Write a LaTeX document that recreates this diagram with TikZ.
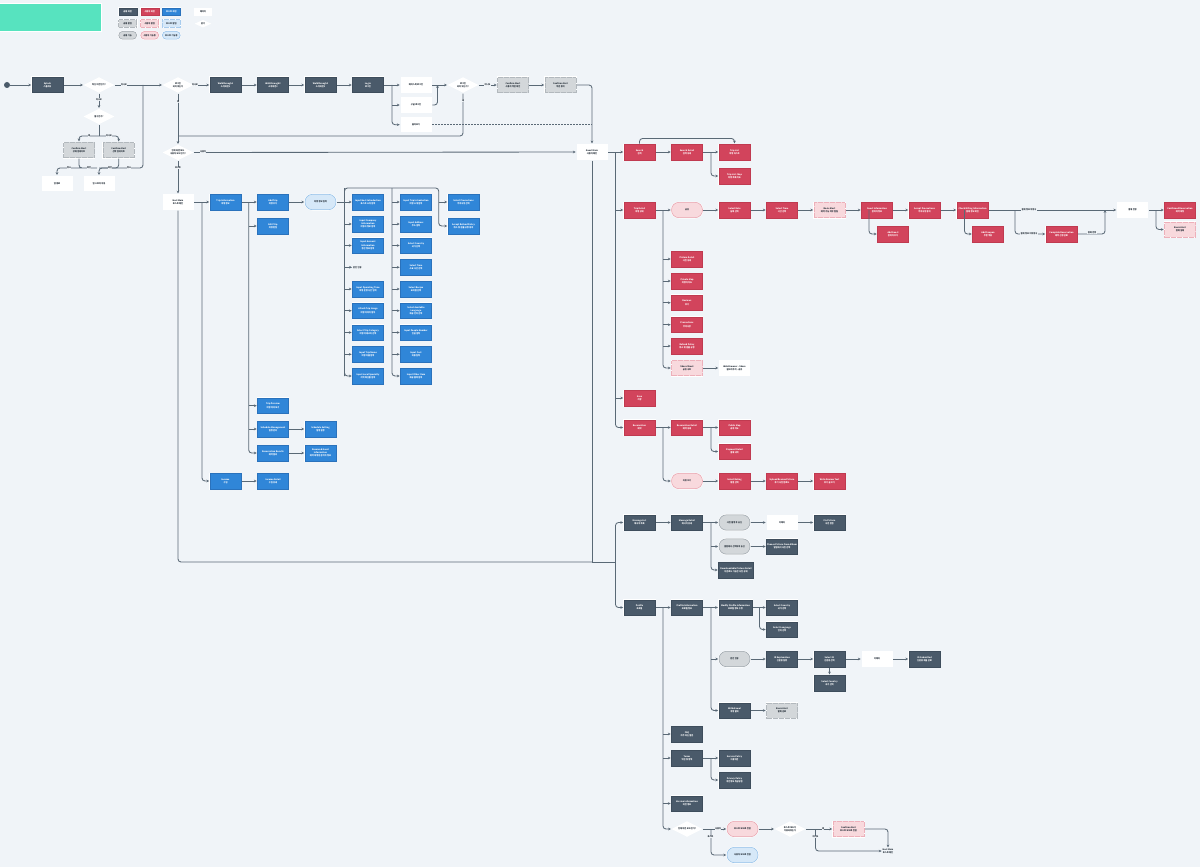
\documentclass[tikz,border=0pt]{standalone}
\usepackage{fontspec}
\setmainfont{Noto Sans CJK KR}
\usetikzlibrary{arrows.meta,shapes.geometric}
\definecolor{bgc}{HTML}{F0F4F8}
\definecolor{grn}{HTML}{57E3BF}
\definecolor{dkc}{HTML}{4A5A6A}
\definecolor{dkb}{HTML}{3E4D5C}
\definecolor{rdc}{HTML}{D2445C}
\definecolor{rdb}{HTML}{C03A50}
\definecolor{blc}{HTML}{3086D8}
\definecolor{blb}{HTML}{2A72BC}
\definecolor{pdc}{HTML}{D3D7DA}
\definecolor{pdb}{HTML}{B2B8BD}
\definecolor{prc}{HTML}{F8D9DD}
\definecolor{prb}{HTML}{EDB0BA}
\definecolor{pbc}{HTML}{D6E8F8}
\definecolor{pbb}{HTML}{A8CCEE}
\definecolor{pdl}{HTML}{9AA3AA}
\definecolor{prl}{HTML}{E8A0AC}
\definecolor{pbl}{HTML}{90BEE8}
\definecolor{lnc}{HTML}{5A6976}
\definecolor{txt}{HTML}{1F2933}
\newcommand{\fs}{\fontsize{2.15}{3.2}\selectfont\bfseries}
\newcommand{\pr}[2]{#1\\#2}
\tikzset{
 basebox/.style={rectangle,inner sep=0pt,minimum width=31pt,minimum height=15.4pt,align=center,font=\fs,outer sep=.8pt},
 halo/.style={preaction={draw=white,solid,line width=1.6pt}},
 scrD/.style={basebox,halo,fill=dkc,draw=dkb,line width=.4pt,text=white},
 scrR/.style={basebox,halo,fill=rdc,draw=rdb,line width=.4pt,text=white},
 scrB/.style={basebox,halo,fill=blc,draw=blb,line width=.4pt,text=white},
 popD/.style={basebox,halo,fill=pdc,draw=pdb,dash pattern=on .6pt off .6pt,line width=.6pt,text=txt},
 popR/.style={basebox,halo,fill=prc,draw=prb,dash pattern=on .6pt off .6pt,line width=.6pt,text=txt},
 popB/.style={basebox,halo,fill=pbc,draw=pbb,dash pattern=on .6pt off .6pt,line width=.6pt,text=txt},
 pillD/.style={basebox,rounded corners=7.5pt,halo,fill=pdc,draw=pdl,line width=.5pt,text=txt},
 pillR/.style={basebox,rounded corners=7.5pt,halo,fill=prc,draw=prl,line width=.5pt,text=txt},
 pillB/.style={basebox,rounded corners=7.5pt,halo,fill=pbc,draw=pbl,line width=.5pt,text=txt},
 pg/.style={basebox,fill=white,text=txt},
 dec/.style={diamond,aspect=2,inner sep=0pt,minimum width=31pt,minimum height=16pt,fill=white,text=txt,align=center,font=\fs,outer sep=.6pt},
 lbl/.style={fill=bgc,inner sep=.4pt,font=\fs,text=txt,align=center},
 ln/.style={draw=lnc,line width=.85pt,-{Stealth[length=2.8pt,width=2.6pt]}},
 pl/.style={draw=lnc,line width=.85pt},
 rc/.style={rounded corners=3pt},
 lg/.style={minimum width=18pt,minimum height=7.8pt,rounded corners=0pt}
}
\newcommand{\tr}[2]{\draw[ln] (#1 |- #2.west) -- (#2.west);}
\newcommand{\rd}[2]{\draw[ln,rc] (#1) |- (#2.west);}
\newcommand{\ar}[2]{\draw[ln] (#1.east) -- (#2.west);}
\begin{document}
\begin{tikzpicture}[x=1pt,y=-1pt]
\useasboundingbox (0,0) rectangle (1200,867);
\fill[bgc] (0,0) rectangle (1200,867);
% banner + legend
\node[draw=white,line width=.8pt,fill=grn,minimum width=103pt,minimum height=27.5pt,inner sep=0pt] (banner) at (49.5,17.4) {};
\node[scrD,lg] (l1) at (127.7,11.7) {공통 화면};
\node[scrR,lg] (l2) at (149.7,11.7) {사용자 화면};
\node[scrB,lg] (l3) at (171.3,11.7) {호스트 화면};
\node[popD,lg] (l4) at (127.7,23.5) {공통 팝업};
\node[popR,lg] (l5) at (149.7,23.5) {사용자 팝업};
\node[popB,lg] (l6) at (171.3,23.5) {호스트 팝업};
\node[pillD,minimum width=18pt,minimum height=7.8pt,rounded corners=3.9pt] (l7) at (127.7,35.3) {공통 기능};
\node[pillR,minimum width=18pt,minimum height=7.8pt,rounded corners=3.9pt] (l8) at (149.7,35.3) {사용자 기능등};
\node[pillB,minimum width=18pt,minimum height=7.8pt,rounded corners=3.9pt] (l9) at (171.3,35.3) {호스트 기능등};
\node[pg,lg] (l10) at (203,11.7) {페이지};
\node[dec,minimum width=17pt,minimum height=8pt] (l11) at (203,23.7) {분기};
% top row
\node[circle,fill=dkc,minimum size=6pt,inner sep=0pt] (start) at (7,85) {};
\node[scrD] (splash) at (47.5,85) {\pr{Splash}{스플래시}};
\node[dec] (d1) at (99,85) {최신 버전인가?};
\node[dec] (d2) at (99,116.5) {필수인가?};
\node[popD] (ca1) at (79,150) {\pr{Confirm Alert}{강제 업데이트}};
\node[popD] (ca2) at (118.7,150) {\pr{Confirm Alert}{선택 업데이트}};
\node[pg] (quit) at (57,183.5) {앱 종료};
\node[pg] (store) at (99,183.5) {앱 스토어 이동};
\node[dec] (d3) at (178,85) {\pr{로그인}{되어 있는가}};
\node[scrD] (w1) at (225.5,85) {\pr{Walkthrough1}{소개화면1}};
\node[scrD] (w2) at (273,85) {\pr{Walkthrough2}{소개화면2}};
\node[scrD] (w3) at (320.5,85) {\pr{Walkthrough3}{소개화면3}};
\node[scrD] (login) at (368,85) {\pr{Login}{로그인}};
\node[pg] (fb) at (416,85) {페이스북 로그인};
\node[pg] (gg) at (416,105) {구글 로그인};
\node[pg] (look) at (416,124.7) {둘러보기};
\node[dec] (d4) at (463,85) {\pr{로그인}{되어 있는가?}};
\node[popD] (ca3) at (513,85) {\pr{Confirm Alert}{사용자 약관 확인}};
\node[popD] (ca4) at (560.5,85) {\pr{Confirm Alert}{약관 동의}};
\node[pg] (gmain) at (592,152) {\pr{Guest Main}{사용자 메인}};
\node[dec] (d5) at (178,152.5) {\pr{현재 화면 모드}{사용자 모드인가?}};
\node[pg] (hmain) at (178,202) {\pr{Host Main}{호스트 메인}};
% host
\node[scrB] (ti) at (225.5,202) {\pr{Trip Information}{여행 정보}};
\node[scrB] (at) at (273,202) {\pr{Add Trip}{여행 추가}};
\node[scrB] (et) at (273,226) {\pr{Edit Trip}{여행 편집}};
\node[pillB] (tinfo) at (320.5,202) {여행 정보 입력};
\node[scrB] (c1a) at (368,202) {\pr{Input Host Introduction}{호스트 소개 입력}};
\node[scrB] (c1b) at (368,224) {\pr{Input Company\\Information}{여행사 정보 입력}};
\node[scrB] (c1c) at (368,245.5) {\pr{Input Account\\Information}{정산 정보 입력}};
\node[lbl,anchor=west,outer sep=.8pt] (c1d) at (352,267.3) {본인 인증};
\node[scrB] (c1e) at (368,289) {\pr{Input Operating Time}{여행 운영 시간 입력}};
\node[scrB] (c1f) at (368,310.7) {\pr{Attach Trip Image}{여행 이미지 첨부}};
\node[scrB] (c1g) at (368,332.5) {\pr{Select Trip Category}{여행 카테고리 선택}};
\node[scrB] (c1h) at (368,354.3) {\pr{Input Trip Name}{여행 이름 입력}};
\node[scrB] (c1i) at (368,376) {\pr{Input Local Specialty}{지역 특산품 입력}};
\node[scrB] (c2a) at (416,202) {\pr{Input Trip Introduction}{여행 소개 입력}};
\node[scrB] (c2b) at (416,224) {\pr{Input Address}{주소 입력}};
\node[scrB] (c2c) at (416,245.5) {\pr{Select Country}{국가 선택}};
\node[scrB] (c2d) at (416,267.3) {\pr{Select Time}{소요 시간 선택}};
\node[scrB] (c2e) at (416,289) {\pr{Select Recipe}{요리법 선택}};
\node[scrB] (c2f) at (416,310.7) {\pr{Select Available\\Language}{제공 언어 선택}};
\node[scrB] (c2g) at (416,332.5) {\pr{Input People Number}{인원 입력}};
\node[scrB] (c2h) at (416,354.3) {\pr{Input Cost}{비용 입력}};
\node[scrB] (c2i) at (416,376) {\pr{Input Other Item}{제공 품목 입력}};
\node[scrB] (c3a) at (463.5,202) {\pr{Select Precautions}{주의사항 선택}};
\node[scrB] (c3b) at (463.5,226) {\pr{Accept Refund Policy}{취소 및 환불 규정 동의}};
\node[scrB] (tp) at (273,405.7) {\pr{Trip Preview}{여행 미리 보기}};
\node[scrB] (sm) at (273,429) {\pr{Schedule Management}{일정 관리}};
\node[scrB] (ss) at (320.5,429) {\pr{Schedule Setting}{일정 설정}};
\node[scrB] (rr) at (273,453) {\pr{Reservation Results}{예약 결과}};
\node[scrB] (rg) at (320.5,453) {\pr{Reserved Guest\\Information}{예약 확정된 참석자 정보}};
\node[scrB] (inc) at (225.5,481) {\pr{Income}{수입}};
\node[scrB] (incd) at (273,481) {\pr{Income Detail}{수입 상세}};
% guest
\node[scrR] (se) at (639.5,152) {\pr{Search}{검색}};
\node[scrR] (sd) at (687,152) {\pr{Search Detail}{검색 상세}};
\node[scrR] (tl) at (734.5,152) {\pr{Trip List}{여행 리스트}};
\node[scrR] (tm) at (734.5,176) {\pr{Trip List: Map}{여행 목록 지도}};
\node[scrR] (td) at (639.5,210) {\pr{Trip Detail}{여행 상세}};
\node[pillR] (share) at (687,210) {공유};
\node[scrR] (sdt) at (734.5,210) {\pr{Select Date}{날짜 선택}};
\node[scrR] (stm) at (782,210) {\pr{Select Time}{시간 선택}};
\node[popR] (ba) at (829.5,210) {\pr{Basic Alert}{예약 가능 여부 알림}};
\node[scrR] (gi) at (877,210) {\pr{Guest Information}{참여자 정보}};
\node[scrR] (ag) at (893,234) {\pr{Add Guest}{참여자 추가}};
\node[scrR] (ap) at (924.5,210) {\pr{Accept Precautions}{주의사항 동의}};
\node[scrR] (cb) at (972.5,210) {\pr{Check Billing Information}{결제 정보 확인}};
\node[scrR] (ac) at (988,234) {\pr{Add Coupon}{쿠폰 적용}};
\node[scrR] (cr) at (1061.5,234) {\pr{Complete Reservation}{예약 신청 완료}};
\node[pg] (pay) at (1132.5,210) {결제 진행};
\node[scrR] (cfr) at (1180,210) {\pr{Confirmed Reservation}{예약 확정}};
\node[popR] (ba2) at (1180,229.5) {\pr{Basic Alert}{결제 실패}};
\node[scrR] (pd) at (687,259) {\pr{Picture Detail}{사진 상세}};
\node[scrR] (pm) at (687,281) {\pr{Private Map}{여행자 지도}};
\node[scrR] (rv) at (687,302.7) {\pr{Reviews}{후기}};
\node[scrR] (pc) at (687,324.7) {\pr{Precautions}{주의사항}};
\node[scrR] (rp) at (687,346) {\pr{Refund Policy}{취소 및 환불 규정}};
\node[popR] (sh) at (687,368) {\pr{Share Sheet}{공유 시트}};
\node[pg] (wb) at (734.5,368) {\pr{Web Browser - Share}{웹브라우저 - 공유}};
\node[scrR] (sv) at (639.5,398) {\pr{Save}{저장}};
\node[scrR] (re) at (639.5,427.5) {\pr{Reservation}{예약}};
\node[scrR] (red) at (687,427.5) {\pr{Reservation Detail}{예약 상세}};
\node[scrR] (pbm) at (734.5,427.5) {\pr{Public Map}{공개 지도}};
\node[scrR] (pyd) at (734.5,451.5) {\pr{Payment Detail}{결제 내역}};
\node[pillR] (wr) at (687,481) {리뷰 쓰기};
\node[scrR] (sr) at (734.5,481) {\pr{Select Rating}{평점 선택}};
\node[scrR] (ur) at (782,481) {\pr{Upload Review Picture}{후기 사진 업로드}};
\node[scrR] (wt) at (829.5,481) {\pr{Write Review Text}{후기 글 쓰기}};
% common
\node[scrD] (ml) at (639.5,522.5) {\pr{Message List}{메시지 목록}};
\node[scrD] (md) at (687,522.5) {\pr{Message Detail}{메시지 상세}};
\node[pillD] (pc1) at (734.5,522.5) {사진 촬영 후 송신};
\node[pg] (cam1) at (782,522.5) {카메라};
\node[scrD] (fp) at (829.5,522.5) {\pr{Fix Picture}{사진 편집}};
\node[pillD] (pc2) at (734.5,546.5) {앨범에서 선택하여 송신};
\node[scrD] (cpa) at (782,546.5) {\pr{Choose Picture From Album}{앨범에서 사진 선택}};
\node[scrD,minimum width=35pt] (dpd) at (736,570) {\pr{Downloadable Picture Detail}{다운로드 가능한 사진 상세}};
\node[scrD] (pf) at (639.5,607.5) {\pr{Profile}{프로필}};
\node[scrD] (pi) at (687,607.5) {\pr{Profile Information}{프로필 정보}};
\node[scrD,minimum width=33.5pt] (mp) at (735.5,607.5) {\pr{Modify Profile Information}{프로필 정보 수정}};
\node[scrD] (sc) at (782,607.5) {\pr{Select Country}{국가 선택}};
\node[scrD] (sl) at (782,629.5) {\pr{Select Language}{언어 선택}};
\node[pillD] (cert) at (734.5,659) {본인 인증};
\node[scrD] (ide) at (782,659) {\pr{ID Explanation}{신분증 설명}};
\node[scrD] (sid) at (829.5,659) {\pr{Select ID}{신분증 선택}};
\node[pg] (cam2) at (877,659) {카메라};
\node[scrD] (ids) at (924.5,659) {\pr{ID Submitted}{신분증 제출 완료}};
\node[scrD] (sc2) at (829.5,683) {\pr{Select Country}{국가 선택}};
\node[scrD] (wd) at (734.5,710.5) {\pr{Withdrawal}{계정 탈퇴}};
\node[popD] (ba3) at (782,710.5) {\pr{Basic Alert}{탈퇴 완료}};
\node[scrD] (faq) at (687,734) {\pr{FAQ}{자주 하는 질문}};
\node[scrD] (tr) at (687,758) {\pr{Terms}{약관 및 정책}};
\node[scrD] (spl) at (734.5,758) {\pr{Service Policy}{이용약관}};
\node[scrD] (ppl) at (734.5,780) {\pr{Privacy Policy}{개인정보 취급방침}};
\node[scrD] (ver) at (687,803.5) {\pr{Version Information}{버전 정보}};
\node[dec] (d6) at (687,829) {현재 어떤 모드인가?};
\node[pillR] (toh) at (742.5,829) {호스트 모드로 전환};
\node[pillB] (tou) at (742.5,855) {사용자 모드로 전환};
\node[dec] (d7) at (790,829) {\pr{호스트 모드가}{허용되었는가}};
\node[popR] (ca5) at (848.5,829) {\pr{Confirm Alert}{호스트 모드로 전환}};
\node[lbl,outer sep=.6pt] (hm2) at (888,851) {\pr{Host Main}{호스트 메인}};
% junction coordinates
\coordinate (jv) at (143,85);
\coordinate (jb) at (99,136);
\coordinate (jl) at (392,85);
\coordinate (jq) at (437.5,105);
\coordinate (jm) at (592,562);
\coordinate (jt) at (178,136);
\coordinate (jH) at (202,202);
\coordinate (jT) at (248.7,202);
\coordinate (ja) at (344.5,202);
\coordinate (jA) at (344.5,188);
\coordinate (jB) at (392,188);
\coordinate (jC) at (438.7,188);
\coordinate (jG) at (615.5,152);
\coordinate (jS) at (711,152);
\coordinate (jTD) at (663,210);
\coordinate (jR) at (663,427.5);
\coordinate (jRD) at (711,427.5);
\coordinate (jM) at (711,522.5);
\coordinate (jP) at (663,607.5);
\coordinate (jI) at (711,607.5);
\coordinate (jMP) at (759.5,607.5);
\coordinate (jTR) at (711,758);
\coordinate (jD6) at (711,829);
\coordinate (jD7) at (815.5,829);
\coordinate (jGI) at (869,210);
\coordinate (jCB) at (964.5,210);
\coordinate (jBL) at (1015,210);
\coordinate (jCR) at (1105,210);
\coordinate (jPY) at (1156,210);
\coordinate (j615) at (615.5,562);
\coordinate (jy) at (99,168);
\coordinate (jloop) at (687,138.5);
% connectors: top
\draw[ln] (start) -- (splash);
\ar{splash}{d1}
\ar{d1}{d3}
\draw[ln] (d1) -- (d2);
\draw[pl] (d2.south) -- (jb);
\draw[ln,rc] (jb) -| (ca1.north);
\draw[ln,rc] (jb) -| (ca2.north);
\draw[ln,rc] (ca1.south) |- (jy) -| (quit.north);
\draw[ln,rc] (ca2.south) |- (jy) -- (store.north);
\draw[pl,rc] (jy) -| (jv);
\ar{d3}{w1} \ar{w1}{w2} \ar{w2}{w3} \ar{w3}{login} \ar{login}{fb}
\tr{jl}{gg}
\rd{jl}{look}
\ar{fb}{d4}
\draw[ln,rc] (gg.east) -| (jq |- d4) ;
\ar{d4}{ca3} \ar{ca3}{ca4}
\draw[ln,rc] (ca4.east) -| (gmain.north);
\draw[pl,dash pattern=on 2pt off 1pt] (look.east) -- (look.east -| gmain);
\draw[pl,rc] (d4.south) |- (jt);
\draw[ln] (d3.south) -- (d5.north);
\draw[ln] (d5.east) -- (gmain.west);
\draw[ln] (d5.south) -- (hmain.north);
\draw[pl,rc] (hmain.south) |- (jm);
\draw[pl] (gmain.south) -- (jm) -- (j615);
% host
\ar{hmain}{ti}
\draw[ln,rc] (jH) |- (inc.west);
\ar{inc}{incd} \ar{ti}{at} \ar{at}{tinfo}
\tr{jT}{et} \tr{jT}{tp} \tr{jT}{sm}
\rd{jT}{rr}
\ar{sm}{ss} \ar{rr}{rg}
\draw[pl] (tinfo.east) -- (ja);
\foreach \n in {c1a,c1b,c1c,c1d,c1e,c1f,c1g,c1h} {\tr{jA}{\n}}
\draw[ln,rc] (jA) |- (c1i.west);
\foreach \n in {c2a,c2b,c2c,c2d,c2e,c2f,c2g,c2h} {\tr{jB}{\n}}
\rd{jB}{c2i}
\tr{jC}{c3a}
\draw[ln,rc] (c1i.west -| jA) -- (jA) -- (jC) |- (c3b.west);
% guest
\ar{gmain}{se}
\draw[ln,rc] (jG) |- (re.west);
\tr{jG}{td} \tr{jG}{sv}
\ar{se}{sd} \ar{sd}{tl}
\rd{jS}{tm}
\draw[ln,rc] (se.north) |- (jloop) -| (tl.north);
\ar{td}{share} \ar{share}{sdt} \ar{sdt}{stm} \ar{stm}{ba} \ar{ba}{gi} \ar{gi}{ap} \ar{ap}{cb} \ar{cb}{pay} \ar{pay}{cfr}
\rd{jGI}{ag} \rd{jCB}{ac}
\rd{jBL}{cr}
\draw[ln,rc] (cr.east) -| (jCR);
\rd{jPY}{ba2}
\foreach \n in {pd,pm,rv,pc,rp} {\tr{jTD}{\n}}
\rd{jTD}{sh}
\ar{sh}{wb}
\ar{re}{red} \ar{red}{pbm}
\rd{jRD}{pyd}
\rd{jR}{wr}
\ar{wr}{sr} \ar{sr}{ur} \ar{ur}{wt}
% common
\draw[ln,rc] (j615) |- (ml.west);
\draw[ln,rc] (j615) |- (pf.west);
\ar{ml}{md} \ar{md}{pc1} \ar{pc1}{cam1} \ar{cam1}{fp}
\tr{jM}{pc2} \rd{jM}{dpd}
\ar{pc2}{cpa}
\ar{pf}{pi} \ar{pi}{mp} \ar{mp}{sc}
\rd{jMP}{sl}
\tr{jI}{cert} \rd{jI}{wd}
\ar{cert}{ide} \ar{ide}{sid} \ar{sid}{cam2} \ar{cam2}{ids}
\draw[ln] (sid.south) -- (sc2.north);
\ar{wd}{ba3}
\foreach \n in {faq,tr,ver} {\tr{jP}{\n}}
\rd{jP}{d6}
\ar{tr}{spl} \rd{jTR}{ppl}
\ar{d6}{toh} \rd{jD6}{tou}
\ar{toh}{d7} \ar{d7}{ca5}
\rd{jD7}{hm2}
\draw[ln,rc] (ca5.east) -| (hm2.north);
% branch labels
\node[lbl] (b1) at (124,85) {아니오};
\node[lbl] (b2) at (99,99.5) {아니오};
\node[lbl] (b3) at (89,136) {예};
\node[lbl] (b4) at (109,136) {아니오};
\node[lbl] (b5) at (69,168) {취소};
\node[lbl] (b6) at (89,168) {확인};
\node[lbl] (b7) at (110,168) {확인};
\node[lbl] (b8) at (129,168) {취소};
\node[lbl] (b9) at (195,85) {아니오};
\node[lbl] (b10) at (178,102) {예};
\node[lbl] (b11) at (203,152) {사용자};
\node[lbl] (b12) at (178,168) {호스트};
\node[lbl] (b13) at (487.5,85) {아니오};
\node[lbl] (b14) at (463,100.7) {예};
\node[lbl] (b15) at (1029,209.5) {결제 정보 저장시};
\node[lbl] (b16) at (1029,233.5) {결제 정보 미저장시};
\node[lbl] (b17) at (1092,233) {결제 진행};
\node[lbl] (b18) at (718,829) {사용자};
\node[lbl] (b19) at (710.5,837) {호스트};
\node[lbl] (b20) at (823,829) {예};
\node[lbl] (b21) at (815.5,837) {아니오};
\end{tikzpicture}
\end{document}
